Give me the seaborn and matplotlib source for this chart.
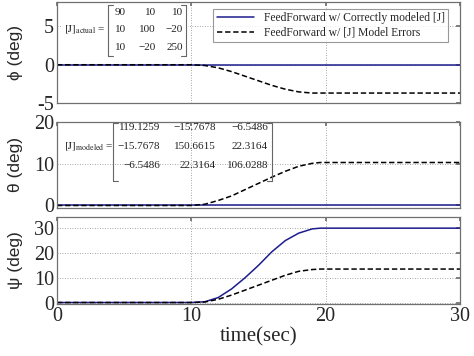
import matplotlib
matplotlib.use("Agg")
import matplotlib.pyplot as plt
import seaborn as sns
import numpy as np
import pandas as pd
from matplotlib.lines import Line2D

# ---- data ----
t = [0, 10, 11, 12, 13, 14, 15, 16, 17, 18, 19, 19.6, 30]
phi_ok = [0, 0, 0, 0, 0, 0, 0, 0, 0, 0, 0, 0, 0]
phi_err = [0, 0, -0.1, -0.4, -0.9, -1.5, -2.1, -2.7, -3.2, -3.55, -3.7, -3.7, -3.7]
theta_ok = [0, 0, 0, 0, 0, 0, 0, 0, 0, 0, 0, 0, 0]
theta_err = [0, 0, 0.3, 1.2, 2.3, 3.8, 5.3, 6.8, 8.2, 9.4, 10.1, 10.3, 10.3]
psi_ok = [0, 0, 0.3, 2.0, 5.5, 10.0, 15.0, 20.5, 25.0, 28.0, 29.7, 30.0, 30.0]
psi_err = [0, 0, 0.2, 1.3, 3.0, 5.0, 7.0, 9.0, 11.0, 12.6, 13.3, 13.5, 13.5]

x_ticks = [0, 10, 20, 30]
ylabels = ["ϕ (deg)", "θ (deg)", "ψ (deg)"]
yticks = [[-5, 0, 5], [0, 10, 20], [0, 10, 20, 30]]
ylims = [(-5, 8.2), (-0.6, 20), (-0.6, 34.5)]
legend_labels = ["FeedForward w/ Correctly modeled [J]", "FeedForward w/ [J] Model Errors"]
J_actual = [["90", "10", "10"], ["10", "100", "\u221220"], ["10", "\u221220", "250"]]
J_modeled = [["119.1259", "\u221215.7678", "\u22126.5486"],
             ["\u221215.7678", "150.6615", "22.3164"],
             ["\u22126.5486", "22.3164", "106.0288"]]

sns.set_theme(style="white")
plt.rcParams["font.family"] = ["Liberation Serif", "DejaVu Serif"]
plt.rcParams["mathtext.fontset"] = "stix"

BLUE = "#1c1c8e"
SPINE = "#707070"

fig = plt.figure(figsize=(4.74, 3.56), dpi=100)
L, W = 57 / 474, (460 - 57) / 474
boxes = [(2, 103), (122, 208), (217, 304)]
axes = []
for top, bot in boxes:
    ax = fig.add_axes([L, 1 - bot / 356, W, (bot - top) / 356])
    axes.append(ax)

series = [(phi_ok, phi_err), (theta_ok, theta_err), (psi_ok, psi_err)]
for i, ax in enumerate(axes):
    ok, err = series[i]
    df = pd.DataFrame({"t": t, "ok": ok, "err": err})
    sns.lineplot(data=df, x="t", y="ok", ax=ax, color=BLUE, lw=1.1, label=legend_labels[0] if i == 0 else None)
    sns.lineplot(data=df, x="t", y="err", ax=ax, color="black", lw=1.1, linestyle=(0, (3.5, 1.8)),
                 label=legend_labels[1] if i == 0 else None)
    ax.set_xlim(0, 30)
    ax.set_ylim(*ylims[i])
    ax.set_xticks(x_ticks)
    ax.set_yticks(yticks[i])
    ax.set_yticklabels([str(v) for v in yticks[i]], fontsize=14.5)
    ax.grid(True, color="#8a8a8a", linestyle=(0, (1, 2)), lw=0.6)
    ax.tick_params(direction="in", length=3, top=True, right=True, color=SPINE, pad=2)
    for s in ax.spines.values():
        s.set_color(SPINE)
        s.set_linewidth(0.9)
    ax.set_ylabel(ylabels[i], fontsize=12.5, family=["Liberation Sans", "DejaVu Sans"], labelpad=2)
    ax.yaxis.set_label_coords(-0.085, 0.5)
    if i < 2:
        ax.set_xticklabels([])
        ax.set_xlabel("")
    else:
        ax.set_xticklabels([str(v) for v in x_ticks], fontsize=14.5)
        ax.set_xlabel("time(sec)", fontsize=15, labelpad=1)

# legend
leg = axes[0].legend(loc="upper right", bbox_to_anchor=(0.985, 0.99), fontsize=8.4, frameon=True,
                     fancybox=False, edgecolor="#808080", handlelength=3.2, borderpad=0.3,
                     labelspacing=0.2, handletextpad=0.8)
leg.get_frame().set_linewidth(0.8)


def draw_matrix(ax, label, mat, x_label, x_lb, col_right, x_rb, y_top, y_bot, rows_y, white, fs):
    tr = ax.transAxes
    def fx(px):
        return (px - 57) / (460 - 57)
    top_, bot_ = boxes[axes.index(ax)]
    def fy(py):
        return (bot_ - py) / (bot_ - top_)
    if white:
        ax.add_patch(plt.Rectangle((fx(x_label - 2), fy(y_bot)), fx(x_rb + 2) - fx(x_label - 2),
                                   fy(y_top) - fy(y_bot), transform=tr, facecolor="white",
                                   edgecolor="none", zorder=3))
    ax.text(fx(x_label), fy(rows_y[1]), label, transform=tr, fontsize=fs, va="center", ha="left",
            color="#222222", zorder=4)
    c = "#666666"
    d = 0.012
    for xb, sgn in ((x_lb, 1), (x_rb, -1)):
        ax.add_line(Line2D([fx(xb), fx(xb)], [fy(y_top), fy(y_bot)], transform=tr, color=c, lw=0.8, zorder=4))
        ax.add_line(Line2D([fx(xb), fx(xb) + sgn * d], [fy(y_top), fy(y_top)], transform=tr, color=c, lw=0.8, zorder=4))
        ax.add_line(Line2D([fx(xb), fx(xb) + sgn * d], [fy(y_bot), fy(y_bot)], transform=tr, color=c, lw=0.8, zorder=4))
    for r, row in enumerate(mat):
        for cc, val in enumerate(row):
            ax.text(fx(col_right[cc]), fy(rows_y[r]), val, transform=tr, fontsize=fs, va="center",
                    ha="right", color="#222222", zorder=4)


draw_matrix(axes[0], r"$[\mathrm{J}]_{\mathrm{actual}}$ =", J_actual, 64, 108, [126, 156, 183], 186,
            5, 56, [13, 30, 48], True, 8)
draw_matrix(axes[1], r"$[\mathrm{J}]_{\mathrm{modeled}}$ =", J_modeled, 64, 113, [160, 216, 268], 272,
            123, 181, [128, 147, 165], False, 8)

fig.savefig("out.png", dpi=100)
